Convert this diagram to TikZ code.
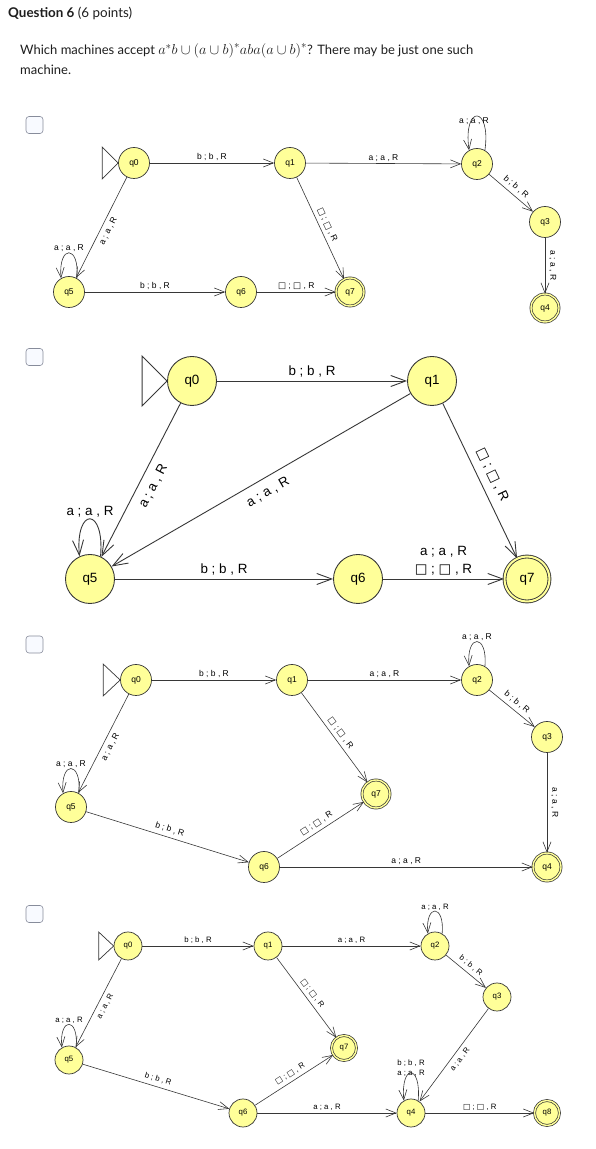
\documentclass[tikz,border=0pt]{standalone}
\usepackage{fontspec}
\setmainfont{Lato}
\newfontfamily\jflap{Liberation Sans}
\newfontfamily\symfont{DejaVu Sans}
\newcommand{\tapeblank}{{\symfont □}}
\usetikzlibrary{arrows.meta}
\definecolor{stfill}{RGB}{255,255,153}
\definecolor{stline}{RGB}{55,55,55}
\definecolor{boxline}{RGB}{135,140,155}
\definecolor{boxfill}{RGB}{248,250,255}
\definecolor{qtext}{RGB}{30,30,30}

\begin{document}
\begin{tikzpicture}[x=1pt,y=1pt,
  st/.style={circle,draw=stline,fill=stfill,line width=0.7pt,minimum size=31pt,inner sep=0pt},
  acc/.style={st,double=stfill,double distance=1.4pt,minimum size=28pt},
  tr/.style={draw=stline,line width=0.6pt,-{Straight Barb[length=10pt,width=8pt]}},
  lbl/.style={inner sep=2pt},
  slbl/.style={sloped,inner sep=4pt},
  loopl/.style={above,inner sep=0.5pt},
  chk/.style={draw=boxline,fill=boxfill,rounded corners=3pt,line width=0.6pt,minimum size=17pt,inner sep=0pt},
  qfont/.style={font=\fontsize{13}{17}\selectfont,text=qtext,inner sep=0pt,anchor=base west}]
  \useasboundingbox (0,0) rectangle (595,1149);

  % question text
  \node[qfont,font=\fontsize{13.4}{17}\selectfont] (title) at (8,1131.5) {\textbf{Question 6} (6 points)};
  \node[qfont] (ask) at (20,1094) {Which machines accept {\fontsize{15.2}{17}\selectfont$a^{*}b\cup\bigl(a\cup b\bigr)^{*}aba\bigl(a\cup b\bigr)^{*}$}? There may be just one such};
  \node[qfont] (ask2) at (20,1074) {machine.};

  \node[chk] (box1) at (34.5,1024) {};
  \node[chk] (box2) at (34.5,792) {};
  \node[chk] (box3) at (34.5,504.5) {};
  \node[chk] (box4) at (34.5,235) {};

  % machine 1
  \begin{scope}[font=\jflap\fontsize{8.5}{10}\selectfont]
    \node[st] (A0) at (134,986) {q0};
    \node[st] (A1) at (290,986) {q1};
    \node[st] (A2) at (477,985) {q2};
    \node[st] (A3) at (545,927) {q3};
    \node[acc] (A4) at (545,841) {q4};
    \node[st] (A5) at (69,857) {q5};
    \node[st] (A6) at (241,857) {q6};
    \node[acc] (A7) at (350,857) {q7};
    \draw[stline,line width=0.7pt] (A0.west) -- ++(-16,16) -- ++(0,-32) -- cycle;
    \draw[tr] (A0) -- node[lbl,above]{b ; b , R} (A1);
    \draw[tr] (A1) -- node[lbl,above]{a ; a , R} (A2);
    \draw[tr] (A2.60) .. controls +(82:46) and +(98:46) .. node[pos=0.5,yshift=-5pt,xshift=-3pt]{a ; a , R} (A2.120);
    \draw[tr] (A2) -- node[slbl,above]{b ; b , R} (A3);
    \draw[tr] (A3) -- node[slbl,above]{a ; a , R} (A4);
    \draw[tr] (A0) -- node[slbl,below]{a ; a , R} (A5);
    \draw[tr] (A5.60) .. controls +(85:34) and +(95:34) .. node[loopl]{a ; a , R} (A5.120);
    \draw[tr] (A5) -- node[lbl,above]{b ; b , R} (A6);
    \draw[tr] (A6) -- node[lbl,above]{\tapeblank\ ; \tapeblank\ , R} (A7);
    \draw[tr] (A1) -- node[slbl,above]{\tapeblank\ ; \tapeblank\ , R} (A7);
  \end{scope}

  % machine 2
  \begin{scope}[font=\jflap\fontsize{13.4}{18}\selectfont,
    st/.append style={minimum size=49pt,line width=0.9pt},
    acc/.append style={minimum size=45pt,double distance=2pt},
    tr/.append style={line width=0.9pt,-{Straight Barb[length=15pt,width=11pt]}},
    lbl/.append style={inner sep=3pt},
    slbl/.append style={inner sep=8pt}]
    \node[st] (B0) at (192,768) {q0};
    \node[st] (B1) at (432,768) {q1};
    \node[st] (B5) at (90,570) {q5};
    \node[st] (B6) at (358,570) {q6};
    \node[acc] (B7) at (527,570) {q7};
    \draw[stline,line width=0.9pt] (B0.west) -- ++(-25,25) -- ++(0,-50) -- cycle;
    \draw[tr] (B0) -- node[lbl,above]{b ; b , R} (B1);
    \draw[tr] (B0) -- node[slbl,below]{a ; a , R} (B5);
    \draw[tr] (B1) -- node[slbl,below]{a ; a , R} (B5);
    \draw[tr] (B5.65) .. controls +(85:50) and +(95:50) .. node[loopl,inner sep=1pt]{a ; a , R} (B5.115);
    \draw[tr] (B5) -- node[lbl,above]{b ; b , R} (B6);
    \draw[tr] (B6) -- node[lbl,above,align=center]{a ; a , R\\\tapeblank\ ; \tapeblank\ , R} (B7);
    \draw[tr] (B1) -- node[slbl,above]{\tapeblank\ ; \tapeblank\ , R} (B7);
  \end{scope}

  % machine 3
  \begin{scope}[font=\jflap\fontsize{8.5}{10}\selectfont]
    \node[st] (C0) at (136,469) {q0};
    \node[st] (C1) at (292,469) {q1};
    \node[st] (C2) at (477,469) {q2};
    \node[st] (C3) at (547,412) {q3};
    \node[acc] (C4) at (547,282) {q4};
    \node[st] (C5) at (71,342) {q5};
    \node[st] (C6) at (264,282) {q6};
    \node[acc] (C7) at (376,355) {q7};
    \draw[stline,line width=0.7pt] (C0.west) -- ++(-17,16) -- ++(0,-32) -- cycle;
    \draw[tr] (C0) -- node[lbl,above]{b ; b , R} (C1);
    \draw[tr] (C1) -- node[lbl,above]{a ; a , R} (C2);
    \draw[tr] (C2.60) .. controls +(85:33) and +(95:33) .. node[loopl]{a ; a , R} (C2.120);
    \draw[tr] (C2) -- node[slbl,above]{b ; b , R} (C3);
    \draw[tr] (C3) -- node[slbl,above]{a ; a , R} (C4);
    \draw[tr] (C1) -- node[slbl,above]{\tapeblank\ ; \tapeblank\ , R} (C7);
    \draw[tr] (C0) -- node[slbl,below]{a ; a , R} (C5);
    \draw[tr] (C5.60) .. controls +(85:33) and +(95:33) .. node[loopl]{a ; a , R} (C5.120);
    \draw[tr] (C5) -- node[slbl,above]{b ; b , R} (C6);
    \draw[tr] (C6) -- node[slbl,above]{\tapeblank\ ; \tapeblank\ , R} (C7);
    \draw[tr] (C6) -- node[lbl,above]{a ; a , R} (C4);
  \end{scope}

  % machine 4
  \begin{scope}[font=\jflap\fontsize{7.8}{9.5}\selectfont,
    st/.append style={minimum size=28pt},
    acc/.append style={minimum size=25pt}]
    \node[st] (D0) at (128,203) {q0};
    \node[st] (D1) at (268,203) {q1};
    \node[st] (D2) at (435,203) {q2};
    \node[st] (D3) at (497,152) {q3};
    \node[st] (D4) at (411,36) {q4};
    \node[st] (D5) at (69,89) {q5};
    \node[st] (D6) at (243,36) {q6};
    \node[acc] (D7) at (344,101) {q7};
    \node[acc] (D8) at (547,36) {q8};
    \draw[stline,line width=0.7pt] (D0.west) -- ++(-15,14) -- ++(0,-28) -- cycle;
    \draw[tr] (D0) -- node[lbl,above]{b ; b , R} (D1);
    \draw[tr] (D1) -- node[lbl,above]{a ; a , R} (D2);
    \draw[tr] (D2.60) .. controls +(85:30) and +(95:30) .. node[loopl]{a ; a , R} (D2.120);
    \draw[tr] (D2) -- node[slbl,above]{b ; b , R} (D3);
    \draw[tr] (D3) -- node[slbl,below]{a ; a , R} (D4);
    \draw[tr] (D4.60) .. controls +(85:37) and +(95:37) .. node[loopl,align=center,yshift=-4pt]{b ; b , R\\a ; a , R} (D4.120);
    \draw[tr] (D4) -- node[lbl,above]{\tapeblank\ ; \tapeblank\ , R} (D8);
    \draw[tr] (D6) -- node[lbl,above]{a ; a , R} (D4);
    \draw[tr] (D1) -- node[slbl,above]{\tapeblank\ ; \tapeblank\ , R} (D7);
    \draw[tr] (D6) -- node[slbl,above]{\tapeblank\ ; \tapeblank\ , R} (D7);
    \draw[tr] (D0) -- node[slbl,below]{a ; a , R} (D5);
    \draw[tr] (D5.60) .. controls +(85:31) and +(95:31) .. node[loopl]{a ; a , R} (D5.120);
    \draw[tr] (D5) -- node[slbl,above]{b ; b , R} (D6);
  \end{scope}
\end{tikzpicture}
\end{document}
